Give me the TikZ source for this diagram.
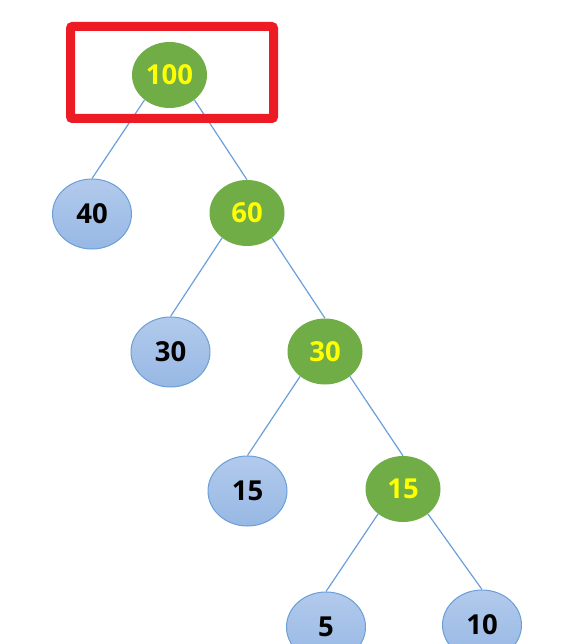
\documentclass[tikz,border=0pt]{standalone}
\usepackage{fontspec}
\setmainfont{Open Sans}
\usetikzlibrary{shapes.geometric}
\definecolor{gnode}{HTML}{70AD47}
\definecolor{ytext}{HTML}{FFFF00}
\definecolor{bline}{HTML}{6A9FD8}
\definecolor{btop}{HTML}{B2CAEC}
\definecolor{bbot}{HTML}{97B8E4}
\definecolor{redbox}{HTML}{ED1C24}
\tikzset{
  every node/.style={font=\fontsize{27.5}{30}\selectfont\bfseries, inner sep=0pt},
  gnodestyle/.style={ellipse, minimum width=75pt, minimum height=66pt, fill=gnode, text=ytext},
  bnodestyle/.style={ellipse, minimum width=79pt, minimum height=70pt, draw=bline, line width=1pt, top color=btop, bottom color=bbot, text=black},
  edgestyle/.style={draw=bline, line width=1.2pt},
}
\begin{document}
\begin{tikzpicture}[x=1pt,y=-1pt]
\useasboundingbox (0,0) rectangle (570,644);
\node[gnodestyle] (n100) at (169.5,75) {100};
\node[bnodestyle] (n40) at (92,214) {40};
\node[gnodestyle] (n60) at (247,213) {60};
\node[bnodestyle] (n30b) at (170.5,352) {30};
\node[gnodestyle] (n30g) at (325,351.5) {30};
\node[bnodestyle] (n15b) at (247.5,491) {15};
\node[gnodestyle] (n15g) at (403,489) {15};
\node[bnodestyle] (n5) at (326,627) {5};
\node[bnodestyle] (n10) at (482,625) {10};
\draw[edgestyle] (n100.225) -- (n40.north);
\draw[edgestyle] (n100.-45) -- (n60.north);
\draw[edgestyle] (n60.225) -- (n30b.north);
\draw[edgestyle] (n60.-45) -- (n30g.north);
\draw[edgestyle] (n30g.225) -- (n15b.north);
\draw[edgestyle] (n30g.-45) -- (n15g.north);
\draw[edgestyle] (n15g.225) -- (n5.north);
\draw[edgestyle] (n15g.-45) -- (n10.north);
\node[draw=redbox, line width=9pt, rounded corners=2pt, minimum width=203pt, minimum height=92pt] (box) at (172,72.5) {};
\end{tikzpicture}
\end{document}
